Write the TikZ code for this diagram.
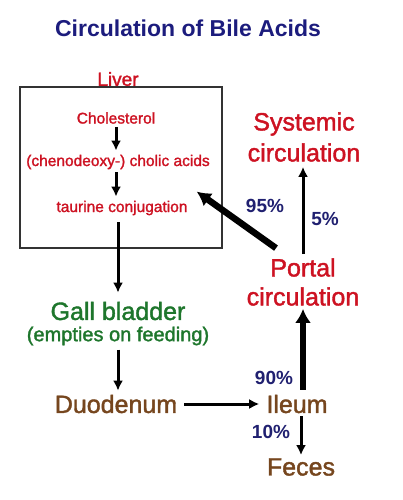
\documentclass[tikz,border=0pt]{standalone}
\usepackage{fontspec}
\setmainfont{Liberation Sans}
\newfontfamily\heavyfont[FakeBold=1.6]{Liberation Sans}
\usetikzlibrary{arrows.meta, calc}
\definecolor{titleblue}{RGB}{28,28,125}
\definecolor{liverred}{RGB}{205,18,34}
\definecolor{gallgreen}{RGB}{30,118,44}
\definecolor{gutbrown}{RGB}{118,70,30}
\definecolor{pctblue}{RGB}{32,32,112}
\begin{document}
\begin{tikzpicture}[x=1pt, y=-1pt,
		every node/.style={inner sep=1pt, align=center},
		arr/.style={-{Latex[length=10pt, width=10pt]}, line width=3pt},
		bigarr/.style={-{Latex[length=14pt, width=16pt]}, line width=6.5pt},
		pct/.style={font=\fontsize{19}{19}\selectfont\bfseries, text=pctblue}]
	\useasboundingbox (0, 0) rectangle (402, 500);
	\node[font=\fontsize{23}{23}\selectfont\bfseries, text=titleblue] (title) at (188, 28) {Circulation of Bile Acids};
	% liver
	\node[font=\fontsize{19}{19}\selectfont\heavyfont, text=liverred] (liver) at (118, 79) {Liver};
	\draw[line width=2pt, black!80] (20, 87) rectangle (222, 248);
	\node[font=\fontsize{15.5}{16}\selectfont\heavyfont, text=liverred] (chol) at (116, 118) {Cholesterol};
	\node[font=\fontsize{15.5}{16}\selectfont\heavyfont, text=liverred] (cheno) at (118, 162) {(chenodeoxy-) cholic acids};
	\node[font=\fontsize{15.5}{16}\selectfont\heavyfont, text=liverred] (taur) at (122, 208) {taurine conjugation};
	\draw[arr, shorten <=2pt, shorten >=3pt] (chol) -- (chol |- cheno.north);
	\draw[arr, shorten <=2pt, shorten >=3pt] (cheno.south -| chol) -- (chol |- taur.north);
	% gut
	\node[font=\fontsize{25}{25}\selectfont\heavyfont, text=gallgreen] (gall) at (118, 311) {Gall bladder};
	\node[font=\fontsize{20}{20}\selectfont\heavyfont, text=gallgreen] (empty) at (118, 336) {(empties on feeding)};
	\node[font=\fontsize{25}{25}\selectfont\heavyfont, text=gutbrown] (duod) at (116, 404) {Duodenum};
	\node[font=\fontsize{25}{25}\selectfont\heavyfont, text=gutbrown] (ileum) at (297, 404) {Ileum};
	\node[font=\fontsize{25}{25}\selectfont\heavyfont, text=gutbrown] (feces) at (301, 467) {Feces};
	\draw[arr, shorten <=6pt, shorten >=8pt] (taur.south -| gall) -- (gall);
	\draw[arr, shorten <=3pt, shorten >=3pt] (empty) -- (empty |- duod.north);
	\draw[arr, shorten <=6pt, shorten >=6pt] (duod) -- (ileum);
	\draw[arr, shorten <=2pt, shorten >=2pt] (ileum.south -| feces) -- (feces);
	% circulation
	\node[font=\fontsize{25}{29}\selectfont\heavyfont, text=liverred] (portal) at (303, 282) {Portal\\circulation};
	\node[font=\fontsize{25}{31}\selectfont\heavyfont, text=liverred] (systemic) at (304, 137) {Systemic\\circulation};
	\draw[bigarr, shorten <=4pt, shorten >=2pt] (ileum.north -| portal) -- (portal);
	\draw[arr, shorten <=3pt, shorten >=4pt] (portal) -- (portal |- systemic.south);
	\draw[bigarr] ($(portal.north)+(-27, -9)$) -- ($(taur.north east)+(8, -8)$);
	\node[pct] (p95) at (265, 206) {95\%};
	\node[pct] (p5) at (325, 219) {5\%};
	\node[pct] (p90) at (274, 378) {90\%};
	\node[pct] (p10) at (271, 432) {10\%};
\end{tikzpicture}
\end{document}
